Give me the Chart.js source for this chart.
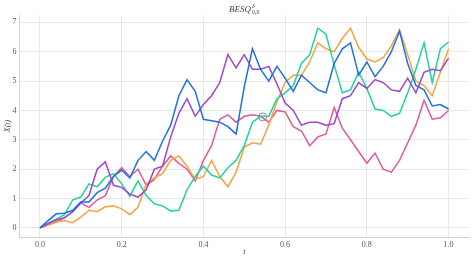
<!DOCTYPE html>
<html>
<head>
<meta charset="utf-8">
<script src="https://cdn.jsdelivr.net/npm/chart.js@4.4.0/dist/chart.umd.min.js"></script>
<style>
html, body { margin: 0; padding: 0; background: #fff; }
</style>
</head>
<body>
<canvas id="myChart" width="474" height="260"></canvas>
<script>
// time grid, read every 0.02
let T = [0, 0.02, 0.04, 0.06, 0.08, 0.10, 0.12, 0.14, 0.16, 0.18,
         0.20, 0.22, 0.24, 0.26, 0.28, 0.30, 0.32, 0.34, 0.36, 0.38,
         0.40, 0.42, 0.44, 0.46, 0.48, 0.50, 0.52, 0.54, 0.56, 0.58,
         0.60, 0.62, 0.64, 0.66, 0.68, 0.70, 0.72, 0.74, 0.76, 0.78,
         0.80, 0.82, 0.84, 0.86, 0.88, 0.90, 0.92, 0.94, 0.96, 0.98, 1.00];

let blue = [0, 0.25, 0.48, 0.5, 0.6, 0.88, 0.88, 1.2, 1.35, 1.75,
            1.97, 1.7, 2.3, 2.6, 2.3, 2.95, 3.5, 4.5, 5.05, 4.65,
            3.7, 3.65, 3.6, 3.45, 3.2, 4.8, 6.1, 5.4, 5.0, 5.5,
            5.1, 4.65, 5.2, 4.95, 4.7, 4.6, 5.6, 6.1, 6.3, 5.2,
            5.65, 5.15, 5.5, 6.0, 6.7, 5.6, 4.85, 4.7, 4.15, 4.2, 4.05];

let purple = [0, 0.15, 0.27, 0.35, 0.55, 0.85, 1.1, 2.0, 2.25, 1.45,
              1.38, 1.15, 1.05, 1.3, 2.0, 2.1, 3.1, 3.9, 4.4, 3.8,
              4.2, 4.5, 4.95, 5.9, 5.45, 5.9, 5.4, 5.4, 5.5, 4.9,
              4.25, 4.0, 3.5, 3.6, 3.6, 3.5, 3.55, 4.4, 4.5, 4.95,
              4.75, 5.05, 4.95, 4.7, 4.65, 5.1, 4.6, 5.3, 5.4, 5.35, 5.78];

let green = [0, 0.15, 0.3, 0.45, 0.95, 1.05, 1.5, 1.4, 1.72, 1.85,
             1.5, 1.08, 1.6, 1.1, 0.82, 0.75, 0.58, 0.6, 1.3, 1.75,
             2.1, 1.8, 1.7, 2.05, 2.3, 2.8, 3.6, 3.8, 3.8, 4.4,
             4.6, 4.85, 5.6, 5.9, 6.8, 6.6, 5.55, 4.6, 4.7, 5.3,
             4.75, 4.05, 4.0, 3.8, 3.9, 4.6, 5.4, 6.3, 4.95, 6.1, 6.33];

let orange = [0, 0.1, 0.2, 0.25, 0.18, 0.37, 0.6, 0.55, 0.72, 0.75,
              0.65, 0.45, 0.7, 1.5, 1.7, 1.85, 2.3, 2.45, 2.1, 1.65,
              1.75, 2.3, 1.75, 1.4, 1.9, 2.75, 2.9, 2.85, 3.5, 4.3,
              4.95, 5.2, 5.2, 5.65, 6.3, 6.1, 6.0, 6.45, 6.8, 6.15,
              5.75, 5.65, 5.8, 6.2, 6.75, 5.9, 5.0, 4.85, 4.5, 5.3, 6.1];

let pink = [0, 0.1, 0.2, 0.34, 0.55, 0.85, 0.7, 0.95, 1.1, 1.75,
            2.05, 1.75, 2.0, 1.45, 1.65, 2.1, 2.45, 2.2, 2.0, 1.6,
            2.3, 2.8, 3.7, 3.85, 3.6, 3.8, 3.85, 3.8, 3.6, 4.0,
            3.95, 3.45, 3.3, 2.8, 3.1, 3.2, 4.1, 3.4, 3.0, 2.6,
            2.2, 2.55, 2.0, 1.9, 2.3, 2.9, 3.5, 4.35, 3.7, 3.75, 4.0];

// the lone hollow marker
let markerT = [0.545];
let markerX = [3.78];

let xTicks = [0, 0.2, 0.4, 0.6, 0.8, 1.0];
let yTicks = [0, 1, 2, 3, 4, 5, 6, 7];

const SERIF = "'Liberation Serif', 'DejaVu Serif', serif";

function pts(xs, ys) {
    return xs.map((t, i) => ({ x: t, y: ys[i] }));
}

function line(values, color) {
    return {
        data: pts(T, values),
        borderColor: color,
        backgroundColor: color,
        borderWidth: 1.5,
        pointRadius: 0,
        tension: 0,
        fill: false
    };
}

// title with super- and subscript, drawn by hand
const titlePlugin = {
    id: 'besqTitle',
    afterDraw(chart) {
        const ctx = chart.ctx;
        const area = chart.chartArea;
        ctx.save();
        ctx.fillStyle = '#444';
        ctx.textBaseline = 'alphabetic';
        let main = 'BESQ';
        ctx.font = 'italic 9px ' + SERIF;
        let wMain = ctx.measureText(main).width;
        ctx.font = 'italic 6px ' + SERIF;
        let wSup = ctx.measureText('\u03b4').width;
        ctx.font = '6px ' + SERIF;
        let wSub = ctx.measureText('0,0').width;
        let total = wMain + Math.max(wSup, wSub) + 1;
        let x0 = (area.left + area.right) / 2 - total / 2;
        let base = 12;
        ctx.font = 'italic 9px ' + SERIF;
        ctx.fillText(main, x0, base);
        ctx.font = 'italic 6px ' + SERIF;
        ctx.fillText('\u03b4', x0 + wMain + 1, base - 4);
        ctx.font = '6px ' + SERIF;
        ctx.fillText('0,0', x0 + wMain + 1, base + 2);
        ctx.restore();
    }
};

const ctx = document.getElementById('myChart').getContext('2d');
const myChart = new Chart(ctx, {
    type: 'line',
    data: {
        datasets: [
            line(blue, '#1f6fe5'),
            line(purple, '#9a46d0'),
            line(green, '#20d39c'),
            line(orange, '#f6a33f'),
            line(pink, '#e0589d'),
            {
                data: pts(markerT, markerX),
                showLine: false,
                pointRadius: 4,
                pointBorderWidth: 1,
                pointBorderColor: '#8a8a8a',
                pointBackgroundColor: 'rgba(255,255,255,0.5)',
                borderColor: '#8a8a8a'
            }
        ]
    },
    options: {
        responsive: false,
        animation: false,
        devicePixelRatio: 1,
        layout: { padding: { top: 15, right: 4, left: 0, bottom: 0 } },
        plugins: {
            legend: { display: false },
            tooltip: { enabled: false },
            title: { display: false }
        },
        scales: {
            x: {
                type: 'linear',
                min: -0.05,
                max: 1.05,
                afterBuildTicks: (s) => { s.ticks = xTicks.map(v => ({ value: v })); },
                afterFit: (s) => { s.height = 23; },
                ticks: {
                    callback: (v) => v.toFixed(1),
                    font: { family: SERIF, size: 8 },
                    color: '#555',
                    padding: 3,
                    maxRotation: 0,
                    autoSkip: false
                },
                grid: { color: '#e8e8e8', lineWidth: 1, drawTicks: false },
                border: { color: '#d4d4d4', width: 1 },
                title: {
                    display: true,
                    text: 't',
                    color: '#444',
                    font: { family: SERIF, style: 'italic', size: 8 },
                    padding: { top: 0, bottom: 3 }
                }
            },
            y: {
                type: 'linear',
                min: -0.31,
                max: 7.25,
                afterBuildTicks: (s) => { s.ticks = yTicks.map(v => ({ value: v })); },
                afterFit: (s) => { s.width = 19.5; },
                ticks: {
                    font: { family: SERIF, size: 8 },
                    color: '#555',
                    padding: 3
                },
                grid: { color: '#e8e8e8', lineWidth: 1, drawTicks: false },
                border: { color: '#d4d4d4', width: 1 },
                title: {
                    display: true,
                    text: 'X(t)',
                    color: '#444',
                    font: { family: SERIF, style: 'italic', size: 8 },
                    padding: { top: 3, bottom: 0 }
                }
            }
        }
    },
    plugins: [titlePlugin]
});
</script>
</body>
</html>
